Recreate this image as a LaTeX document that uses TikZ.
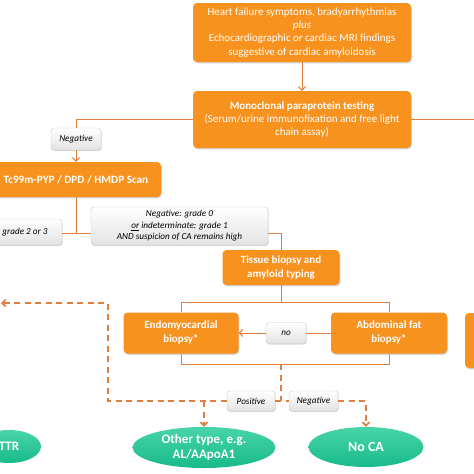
\documentclass[tikz,border=0pt]{standalone}
\usepackage{fontspec}
\setmainfont{Carlito}
\usetikzlibrary{arrows.meta}
\usetikzlibrary{shadows}
\usetikzlibrary{shapes.geometric}
\definecolor{boxorange}{RGB}{247,146,30}
\definecolor{lineorange}{RGB}{224,126,62}
\definecolor{tealgreen}{RGB}{24,186,138}
\definecolor{tealtop}{RGB}{72,212,168}
\tikzstyle{orangebox}=[rectangle,rounded corners=4pt,fill=boxorange,text=white,inner sep=2pt,align=center,font=\fontsize{11}{13.2}\selectfont,drop shadow={shadow xshift=0.8pt,shadow yshift=-1.3pt,opacity=0.35}]
\tikzstyle{labelbox}=[rectangle,rounded corners=3pt,draw=gray!45,top color=white,bottom color=gray!22,inner sep=1pt,align=center,font=\fontsize{9.2}{11.5}\selectfont\itshape,drop shadow={shadow xshift=0.6pt,shadow yshift=-1pt,opacity=0.3}]
\tikzstyle{outcome}=[ellipse,top color=tealtop,bottom color=tealgreen,text=white,inner sep=0,align=center,font=\fontsize{13}{15}\selectfont\bfseries]
\tikzset{
  conn/.style={draw=lineorange,line width=1pt},
  dconn/.style={draw=lineorange,line width=1.7pt,dash pattern=on 6pt off 4.5pt},
  arr/.style={-{Straight Barb[length=3.5pt,width=7pt]}}
}

\begin{document}
\begin{tikzpicture}[x=1pt,y=-1pt]
\useasboundingbox (0,0) rectangle (474,474);
\clip (0,0) rectangle (474,474);

\node[orangebox,minimum width=218pt,minimum height=59pt] (symp) at (302,32.5) {Heart failure symptoms, bradyarrhythmias\\ \textit{plus}\\ Echocardiographic \textit{or} cardiac MRI findings\\ suggestive of cardiac amyloidosis};
\node[orangebox,minimum width=218pt,minimum height=57pt] (mono) at (302,119.5) {\textbf{Monoclonal paraprotein testing}\\ (Serum/urine immunofixation and free light\\ chain assay)};
\node[labelbox,minimum width=50pt,minimum height=22pt] (negA) at (76,139) {Negative};
\node[orangebox,minimum width=170pt,minimum height=35pt,font=\fontsize{11.2}{13}\selectfont\bfseries] (scan) at (76,179.5) {Tc99m-PYP / DPD / HMDP Scan};
\node[labelbox,minimum width=74pt,minimum height=26pt] (gr23) at (25,232) {grade 2 or 3};
\node[labelbox,minimum width=177pt,minimum height=38pt] (grade01) at (179.5,226) {Negative: grade 0\\ \underline{or} indeterminate: grade 1\\ AND suspicion of CA remains high};
\node[orangebox,minimum width=117pt,minimum height=35pt,font=\fontsize{11}{14}\selectfont\bfseries] (tissue) at (281,267.5) {Tissue biopsy and\\ amyloid typing};
\node[orangebox,minimum width=115pt,minimum height=41pt,font=\fontsize{11}{14}\selectfont\bfseries] (endo) at (181,333) {Endomyocardial\\ biopsy*};
\node[orangebox,minimum width=116pt,minimum height=41pt,font=\fontsize{11}{14}\selectfont\bfseries] (abdo) at (389,333) {Abdominal fat\\ biopsy*};
\node[orangebox,minimum width=100pt,minimum height=55pt] (rcut) at (515,340.5) {};
\node[labelbox,minimum width=40pt,minimum height=21pt] (nolab) at (286,333) {no};
\node[labelbox,minimum width=48pt,minimum height=20pt] (pos) at (251,401) {Positive};
\node[labelbox,minimum width=49pt,minimum height=20pt] (negB) at (313.5,401) {Negative};
\node[outcome,minimum width=64pt,minimum height=33pt] (ttr) at (9,446.5) {TTR};
\node[outcome,minimum width=143pt,minimum height=41pt] (other) at (204,447.5) {Other type, e.g.\\ AL/AApoA1};
\node[outcome,minimum width=115pt,minimum height=40pt,font=\fontsize{14}{16}\selectfont\bfseries] (noca) at (366,447) {No CA};

\coordinate (rgt) at (480,118);
\coordinate (j1) at (76,233);
\coordinate (brT) at (281,302);
\coordinate (brB) at (281,364);
\coordinate (dl) at (108,401);
\coordinate (du) at (108,303);
\coordinate (attr) at (1,303);

\draw[conn,arr] (symp) -- (mono);
\draw[conn] (mono.west) -| (negA.north);
\draw[conn] (mono.east) -- (mono.east -| rgt);
\draw[conn,arr] (negA) -- (scan);
\draw[conn] (scan) -- (j1);
\draw[conn] (gr23.east |- j1) -- (grade01.west |- j1);
\draw[conn] (grade01.east |- j1) -| (tissue.north);
\draw[conn] (tissue) -- (brT);
\draw[conn] (endo.north) -- (endo.north |- brT) -- (abdo.north |- brT) -- (abdo.north);
\draw[conn] (endo.south) -- (endo.south |- brB) -- (abdo.south |- brB) -- (abdo.south);
\draw[conn] (abdo) -- (nolab);
\draw[conn,arr] (nolab) -- (endo);

\draw[dconn] (brB) -- (brB |- pos);
\draw[dconn] (pos) -- (negB);
\draw[dconn,arr] (pos.west) -- (dl) -- (du) -- (attr);
\draw[dconn,arr] (other.north |- pos) -- (other.north);
\draw[dconn,arr] (negB.east) -| (noca.north);

\end{tikzpicture}
\end{document}
